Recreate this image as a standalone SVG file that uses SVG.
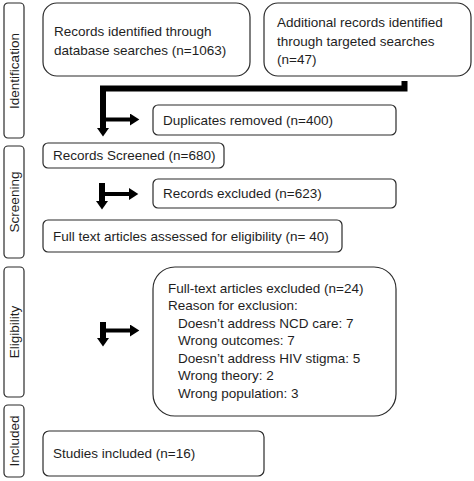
<svg xmlns="http://www.w3.org/2000/svg" width="474" height="481" viewBox="0 0 474 481">
<style>
.box{fill:#fff;stroke:#2b2b2b;stroke-width:1.2}
.t{font-family:"Liberation Sans",Arial,sans-serif;font-size:13.5px;fill:#1e1e1e}
.side{font-family:"Liberation Sans",Arial,sans-serif;font-size:13.5px;fill:#1e1e1e;text-anchor:middle}
.main{fill:none;stroke:#000;stroke-width:6}
.br{fill:none;stroke:#000;stroke-width:4}
</style>
<defs>
<marker id="hd" markerUnits="userSpaceOnUse" markerWidth="12" markerHeight="12" refX="0" refY="5" orient="auto" viewBox="0 0 8 10">
<path d="M0,0 L7,5 L0,10 z" fill="#000"/>
</marker>
<marker id="hb" markerUnits="userSpaceOnUse" markerWidth="12" markerHeight="12" refX="0" refY="4.5" orient="auto" viewBox="0 0 8 9">
<path d="M0,0 L7,4.5 L0,9 z" fill="#000"/>
</marker>
</defs>
<rect width="474" height="481" fill="#fff"/>
<g id="side-identification">
<rect class="box" x="4" y="3" width="20" height="135" rx="4"/>
<text class="side" transform="translate(18.5,71) rotate(-90)">Identification</text>
</g>
<g id="side-screening">
<rect class="box" x="4" y="146" width="20" height="112" rx="4"/>
<text class="side" transform="translate(18.5,202) rotate(-90)">Screening</text>
</g>
<g id="side-eligibility">
<rect class="box" x="4" y="267" width="20" height="130" rx="4"/>
<text class="side" transform="translate(18.5,332) rotate(-90)">Eligibility</text>
</g>
<g id="side-included">
<rect class="box" x="4" y="405" width="20" height="72" rx="4"/>
<text class="side" transform="translate(18.5,441) rotate(-90)">Included</text>
</g>
<g id="n-db">
<rect class="box" x="43" y="3" width="207" height="73" rx="14"/>
<text class="t" x="54" y="36">Records identified through</text>
<text class="t" x="54" y="55">database searches (n=1063)</text>
</g>
<g id="n-targeted">
<rect class="box" x="264" y="3" width="207" height="73" rx="14"/>
<text class="t" x="277" y="27">Additional records identified</text>
<text class="t" x="277" y="46">through targeted searches</text>
<text class="t" x="277" y="64">(n=47)</text>
</g>
<g id="n-duplicates">
<rect class="box" x="153" y="105" width="243" height="30" rx="5"/>
<text class="t" x="163" y="125">Duplicates removed (n=400)</text>
</g>
<g id="n-screened">
<rect class="box" x="43" y="143" width="181" height="25" rx="5"/>
<text class="t" x="53" y="160">Records Screened (n=680)</text>
</g>
<g id="n-excluded">
<rect class="box" x="153" y="179" width="243" height="29" rx="5"/>
<text class="t" x="163" y="198">Records excluded (n=623)</text>
</g>
<g id="n-fulltext">
<rect class="box" x="43" y="220" width="299" height="32" rx="5"/>
<text class="t" x="53" y="241">Full text articles assessed for eligibility (n= 40)</text>
</g>
<g id="n-ft-excluded">
<rect class="box" x="153" y="267" width="243" height="149" rx="22"/>
<text class="t" x="168" y="292.5">Full-text articles excluded (n=24)</text>
<text class="t" x="168" y="310">Reason for exclusion:</text>
<text class="t" x="178" y="327.5">Doesn’t address NCD care: 7</text>
<text class="t" x="178" y="345">Wrong outcomes: 7</text>
<text class="t" x="178" y="362.5">Doesn’t address HIV stigma: 5</text>
<text class="t" x="178" y="380">Wrong theory: 2</text>
<text class="t" x="178" y="397.5">Wrong population: 3</text>
</g>
<g id="n-included">
<rect class="box" x="43" y="431" width="221" height="45" rx="6"/>
<text class="t" x="53" y="458">Studies included (n=16)</text>
</g>
<g id="connectors">
<path class="main" d="M404.5,81 V88.5 H103 V128" marker-end="url(#hd)"/>
<path class="br" d="M103,119.5 H130" marker-end="url(#hb)"/>
<path class="main" d="M102,183 V201" marker-end="url(#hd)"/>
<path class="br" d="M102,194 H129" marker-end="url(#hb)"/>
<path class="main" d="M103,322 V338" marker-end="url(#hd)"/>
<path class="br" d="M103,330.5 H130" marker-end="url(#hb)"/>
</g>
</svg>
